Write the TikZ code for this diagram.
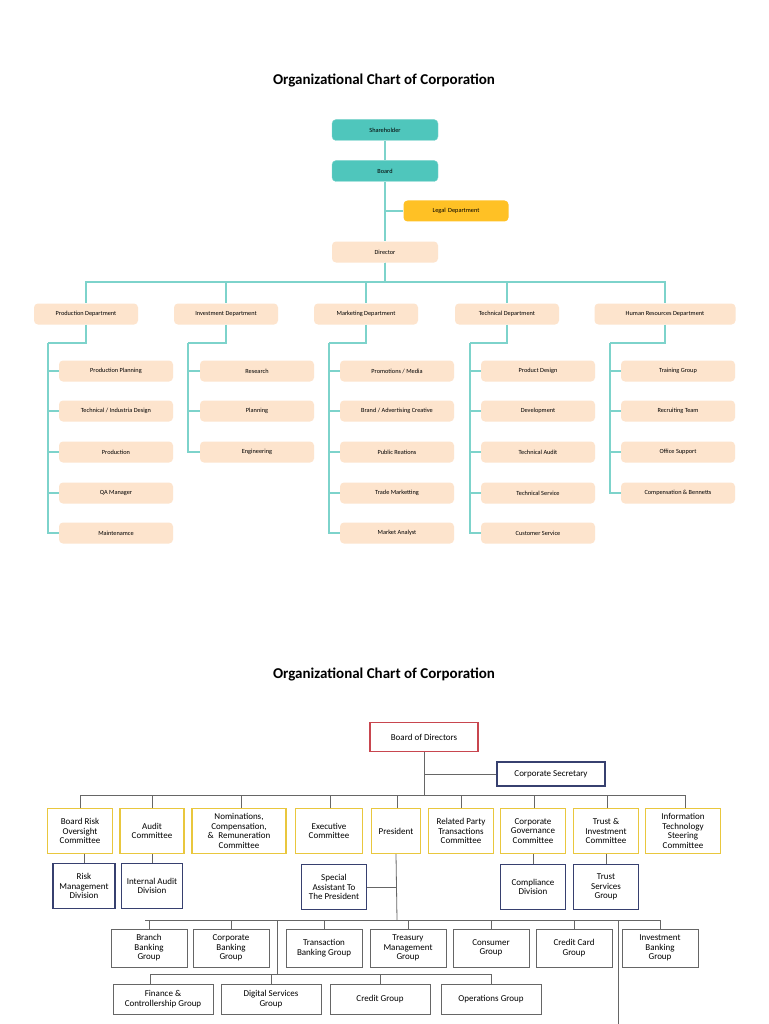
\documentclass[tikz,border=0pt]{standalone}
\usepackage{fontspec}
\setmainfont{Carlito}
\begin{document}
\begin{tikzpicture}[x=1pt,y=-1pt,
  every node/.style={inner sep=0pt,align=center},
  ttl/.style={font=\bfseries\fontsize{15}{17}\selectfont},
  tealbox/.style={fill=tealc,draw=tealc!70!white,rounded corners=4pt,minimum height=21pt,font=\fontsize{6.3}{7}\selectfont},
  pbox/.style={fill=peach,rounded corners=4pt,minimum height=21pt,font=\fontsize{6.3}{7}\selectfont},
  tl/.style={draw=tline,line width=1.1pt},
  bbox/.style={draw,line width=1.2pt,fill=white,font=\fontsize{9}{9.5}\selectfont},
  gbox/.style={bbox,draw=goldc},
  nbox/.style={bbox,draw=navyc},
  kbox/.style={bbox,draw=gray!80!black,line width=0.9pt},
  gl/.style={draw=gray!80!black,line width=0.8pt}]
\definecolor{tealc}{HTML}{4FC6BC}
\definecolor{peach}{HTML}{FDE4CD}
\definecolor{legalc}{HTML}{FFC125}
\definecolor{tline}{HTML}{7DD3CB}
\definecolor{goldc}{HTML}{E9C73E}
\definecolor{navyc}{HTML}{37406F}
\definecolor{redc}{HTML}{C8464F}
\useasboundingbox (0,0) rectangle (768,1024);
\fill[white] (0,0) rectangle (768,1024);
% ---------- top chart
\node[ttl] (t1) at (384,80) {Organizational Chart of Corporation};
\node[tealbox,minimum width=106pt] (sh) at (385,130) {Shareholder};
\node[tealbox,minimum width=106pt] (bd) at (385,171) {Board};
\node[pbox,fill=legalc,minimum width=105pt] (lg) at (456,211) {Legal\, Department};
\node[pbox,minimum width=106pt] (dr) at (385,252) {Director};
\draw[tl] (sh)--(bd);
\draw[tl] (bd)--(dr);
\draw[tl] (385,211)--(lg.west);
\coordinate (bus) at (385,282);
\foreach \n/\x/\w/\t in {d1/86/104/Production Department,d2/226/104/Investment Department,d3/366/104/Marketing Department,d4/507/104/Technical Department,d5/665/141/Human Resources Department}{
  \node[pbox,minimum width=\w pt] (\n) at (\x,314) {\t};
  \draw[tl] (dr.south)--(bus)-|(\n.north);
}
\draw[tl] (86,282)--(665,282);
\def\rowy{{371,411,452,493,533}}
\foreach \d/\vx/\cx/\list/\k in {
  d1/48/116/{Production Planning,Technical / Industria Design,Production,QA Manager,Maintenamce}/5,
  d2/188/257/{Research,Planning,Engineering}/3,
  d3/329/397/{Promotions / Media,Brand / Advertising Creative,Public Reations,Trade Marketting,Market Analyst}/5,
  d4/470/538/{Product Design,Development,Technical Audit,Technical Service,Customer Service}/5,
  d5/610/678/{Training Group,Recruiting Team,Office Support,Compensation \& Bennetts}/4}{
  \coordinate (\d b) at (\vx,343);
  \draw[tl] (\d.south)|-(\d b);
  \foreach \t [count=\i] in \list {
    \pgfmathsetmacro{\yy}{\rowy[\i-1]}
    \node[pbox,minimum width=114pt] (\d c\i) at (\cx,\yy) {\t};
    \draw[tl] (\d b)|-(\d c\i.west);
  }
}
% ---------- bottom chart
\node[ttl] (t2) at (384,674) {Organizational Chart of Corporation};
\node[bbox,draw=redc,minimum width=108pt,minimum height=29pt] (bod) at (424,737) {Board of Directors};
\node[nbox,minimum width=108pt,minimum height=24pt] (cs) at (551,774) {Corporate Secretary};
\coordinate (bus2) at (424,795);
\draw[gl] (bod.south)--(bus2);
\draw[gl] (424,774)--(cs.west);
\draw[gl] (80,795)--(685,795);
\foreach \n/\x/\w/\tx/\t in {
  r1/80/65/80/{Board Risk\\Oversight\\Committee},
  r2/152/64/152/{Audit\\Committee},
  r3/239/94/241/{Nominations,\\Compensation,\\\&\; Remuneration\\Committee},
  r4/329/67/330/{Executive\\Committee},
  r5/396/49/397/{President},
  r6/461/65/461/{Related Party\\Transactions\\Committee},
  r7/533/65/534/{Corporate\\Governance\\Committee},
  r8/606/65/607/{Trust \&\\Investment\\Committee},
  r9/683/75/685/{Information\\Technology\\Steering\\Committee}}{
  \node[gbox,minimum width=\w pt,minimum height=45pt] (\n) at (\x,831) {\t};
  \draw[gl] (\tx,795)--(\tx,808.4);
}
\node[nbox,minimum width=62pt,minimum height=45pt] (s1) at (84,886) {Risk\\Management\\Division};
\node[nbox,minimum width=61pt,minimum height=45pt] (s2) at (152,886) {Internal Audit\\Division};
\node[nbox,minimum width=65pt,minimum height=45pt] (s3) at (334,887) {Special\\Assistant To\\The President};
\node[nbox,minimum width=65pt,minimum height=45pt] (s4) at (533,887) {Compliance\\Division};
\node[nbox,minimum width=65pt,minimum height=45pt] (s5) at (606,887) {Trust\\Services\\Group};
\draw[gl] (84,853.5)--(s1.north);
\draw[gl] (r2)--(s2);
\draw[gl] (r7)--(s4);
\draw[gl] (r8)--(s5);
\coordinate (pb) at (397,920);
\draw[gl] (r5.south)--(pb);
\draw[gl] (s3.east)--(397,887);
\draw[gl] (145,920)--(660,920);
\foreach \n/\x/\t in {
  q1/149/{Branch\\Banking\\Group}, q2/231/{Corporate\\Banking\\Group},
  q3/324/{Transaction\\Banking Group}, q4/408/{Treasury\\Management\\Group},
  q5/491/{Consumer\\Group}, q6/574/{Credit Card\\Group}, q7/660/{Investment\\Banking\\Group}}{
  \node[kbox,minimum width=76pt,minimum height=38pt] (\n) at (\x,948) {\t};
  \draw[gl] (\x,920)--(\n.north);
}
\coordinate (bot) at (618,1024);
\draw[gl] (618,920)--(bot);
\coordinate (b3) at (277,974);
\draw[gl] (277,920)--(b3);
\draw[gl] (150,974)--(491,974);
\foreach \n/\x/\t in {
  w1/163/{Finance \&\\Controllership Group}, w2/271/{Digital Services\\Group},
  w3/380/{Credit Group}, w4/491/{Operations Group}}{
  \node[kbox,minimum width=100pt,minimum height=30pt] (\n) at (\x,999) {\t};
}
\draw[gl] (150,974)--(150,984);
\foreach \n/\x in {w2/271,w3/380,w4/491}{\draw[gl] (\x,974)--(\n.north);}
\end{tikzpicture}
\end{document}
